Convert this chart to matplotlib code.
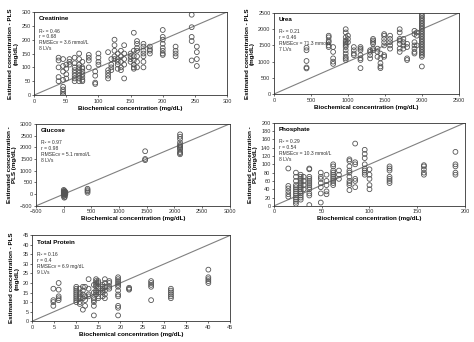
import numpy as np
import matplotlib.pyplot as plt

# ---- data ----
creat_x = [38]*5 + [45]*9 + [50]*4 + [55]*3 + [63]*8 + [70]*9 + [75]*8 + [85]*4 + [95]*4 \
    + [100]*4 + [115]*5 + [120]*4 + [125]*5 + [130]*5 + [135]*5 + [140]*5 + [150]*4 \
    + [155]*7 + [160]*7 + [170]*7 + [180]*4 + [200]*8 + [220]*4 + [245]*5 + [253]*4
creat_y = [135, 125, 100, 65, 50,
           130, 105, 85, 55, 30, 20, 12, 5, 0,
           110, 95, 75, 60,
           130, 120, 110,
           135, 115, 100, 90, 80, 70, 60, 50,
           150, 130, 110, 100, 90, 80, 70, 60, 50,
           120, 100, 95, 85, 75, 65, 55, 50,
           145, 135, 125, 100,
           85, 70, 45, 40,
           150, 135, 120, 110,
           155, 90, 80, 70, 60,
           130, 110, 100, 90,
           200, 180, 160, 140, 130,
           150, 130, 120, 110, 95,
           160, 140, 120, 100, 90,
           180, 150, 130, 110, 60,
           150, 140, 130, 120,
           225, 160, 140, 125, 110, 100, 95,
           195, 185, 170, 160, 140, 120, 100,
           185, 175, 160, 150, 140, 120, 100,
           175, 165, 160, 150,
           235, 210, 200, 185, 170, 160, 150, 145,
           175, 160, 150, 140,
           290, 245, 210, 195, 125,
           175, 155, 130, 105]

urea_x = [440]*5 + [740]*6 + [800]*5 + [970]*13 + [1000]*3 + [1080]*4 + [1170]*7 \
    + [1300]*4 + [1340]*6 + [1400]*3 + [1440]*5 + [1490]*7 + [1570]*5 + [1700]*7 \
    + [1750]*4 + [1800]*4 + [1900]*7 + [1930]*3 + [2000]*28
urea_y = [1430, 1350, 1020, 820, 790,
          1800, 1750, 1650, 1600, 1500, 1450,
          1450, 1300, 1100, 1000, 930,
          2000, 1900, 1750, 1650, 1600, 1550, 1500, 1450, 1350, 1250, 1150, 1100, 1050,
          1800, 1700, 1600,
          1450, 1350, 1250, 1200,
          1450, 1400, 1350, 1200, 1100, 1050, 800,
          1350, 1300, 1200, 1100,
          1700, 1650, 1600, 1550, 1400, 1350,
          1400, 1300, 1150,
          1250, 1100, 950, 850, 800,
          1850, 1800, 1700, 1600, 1500, 1200, 1150,
          1800, 1700, 1600, 1500, 1400,
          2000, 1900, 1700, 1650, 1550, 1400, 1300,
          1700, 1600, 1500, 1400,
          1550, 1450, 1100, 1050,
          1950, 1850, 1600, 1500, 1400, 1300, 1250,
          1900, 1800, 1500,
          2450, 2400, 2350, 2300, 2250, 2200, 2150, 2100, 2050, 2000, 1950, 1900, 1850,
          1800, 1750, 1700, 1650, 1600, 1550, 1500, 1450, 1400, 1350, 1300, 1250, 1200,
          1150, 850]

gluc_x = [0]*5 + [10]*5 + [20]*4 + [30]*3 + [430]*4 + [1470]*3 + [2100]*12
gluc_y = [180, 120, 60, 0, -80,
          150, 100, 40, -20, -150,
          80, 20, -50, -120,
          60, 0, 100,
          230, 170, 120, 60,
          1830, 1500, 1450,
          2550, 2450, 2350, 2200, 2100, 2050, 2000, 1950, 1900, 1800, 1750, 1700]

phos_x = [15]*6 + [23]*13 + [28]*13 + [31]*4 + [37]*12 + [49]*7 + [55]*5 + [62]*10 \
    + [68]*3 + [79]*10 + [85]*6 + [95]*8 + [100]*5 + [121]*7 + [157]*5 + [190]*5
phos_y = [90, 48, 42, 35, 28, 22,
          80, 70, 60, 50, 45, 40, 35, 30, 25, 20, 15, 10, 5,
          75, 70, 65, 60, 55, 50, 45, 40, 35, 30, 25, 20, 15,
          70, 60, 50, 40,
          90, 88, 70, 65, 60, 55, 50, 45, 40, 30, 25, 2,
          80, 70, 65, 55, 45, 30, 8,
          75, 60, 50, 35, 28,
          100, 95, 85, 80, 75, 70, 65, 60, 55, 50,
          85, 75, 65,
          112, 108, 95, 85, 80, 70, 60, 55, 50, 38,
          150, 105, 100, 65, 60, 45,
          135, 125, 115, 100, 90, 85, 80, 75,
          88, 75, 65, 50, 40,
          95, 90, 85, 70, 65, 60, 55,
          98, 95, 88, 80, 75,
          130, 100, 95, 80, 75]

prot_x = [4.8]*4 + [6]*5 + [10]*9 + [10.8]*7 + [11.5]*5 + [12]*4 + [12.8]*4 + [14]*7 \
    + [14.5]*8 + [15]*7 + [16]*6 + [16.5]*6 + [17.5]*4 + [19.5]*12 + [22]*3 + [27]*5 \
    + [31.5]*6 + [40]*5
prot_y = [17, 11, 10, 8,
          20, 16.5, 13, 12, 11,
          18, 17, 16, 15, 14, 13, 12, 11, 10,
          17, 15, 14, 13, 12, 10, 9,
          18, 16, 14, 12, 6,
          18, 13, 11, 8,
          22, 17, 14, 13,
          19, 15, 12, 11, 10, 8, 3,
          22, 21, 20, 19, 18, 16, 15, 14,
          21, 20, 18, 17, 15, 13, 12,
          19, 18, 17, 16, 15, 13,
          22, 20, 18, 16, 14, 12,
          21, 20, 18, 17,
          23, 22, 21, 20, 19, 18, 16, 14, 13, 8, 7, 3,
          17.5, 17, 16.5,
          21, 20, 19, 18, 11,
          17, 16, 15, 14, 13, 12,
          27, 23, 22, 21, 20]

panels = [
    dict(name='Creatinine', x=creat_x, y=creat_y, lim=(0, 300), step=50,
         stats=['R\u00b2 = 0.46', 'r = 0.68', 'RMSEcv = 3.6 mmol/L', '8 LVs'],
         ylabel='Estimated concentration - PLS\n(mg/dL)',
         rect=[0.072, 0.722, 0.407, 0.243]),
    dict(name='Urea', x=urea_x, y=urea_y, lim=(0, 2500), step=500,
         stats=['R\u00b2 = 0.21', 'r = 0.46', 'RMSEcv = 71.3 mmol/L', '7 LVs'],
         ylabel='Estimated concentration - PLS\n(mg/dL)',
         rect=[0.578, 0.725, 0.390, 0.237]),
    dict(name='Glucose', x=gluc_x, y=gluc_y, lim=(-500, 3000), step=500,
         stats=['R\u00b2 = 0.97', 'r = 0.98', 'RMSEcv = 5.1 mmol/L', '8 LVs'],
         ylabel='Estimated concentration -\nPLS (mg/dL)',
         rect=[0.076, 0.398, 0.409, 0.240]),
    dict(name='Phosphate', x=phos_x, y=phos_y, lim=(0, 200), step=20, xstep=50,
         stats=['R\u00b2 = 0.29', 'r = 0.54', 'RMSEcv = 10.3 mmol/L', '8 LVs'],
         ylabel='Estimated concentration -\nPLS (mg/dL)',
         rect=[0.578, 0.398, 0.403, 0.243]),
    dict(name='Total Protein', x=prot_x, y=prot_y, lim=(0, 45), step=5,
         stats=['R\u00b2 = 0.16', 'r = 0.4', 'RMSEcv = 6.9 mg/dL', '9 LVs'],
         ylabel='Estimated concentration - PLS\n(mg/dL)',
         rect=[0.068, 0.061, 0.418, 0.251]),
]

fig = plt.figure(figsize=(4.74, 3.42), dpi=100)
plt.rcParams['font.family'] = ['Liberation Sans', 'DejaVu Sans']

for p in panels:
    ax = fig.add_axes(p['rect'])
    lo, hi = p['lim']
    ax.plot([lo, hi], [lo, hi], color='#808080', lw=0.8, zorder=1)
    ax.scatter(p['x'], p['y'], s=12, facecolors='none', edgecolors='#555555',
               linewidths=0.6, zorder=2)
    ax.set_xlim(lo, hi)
    ax.set_ylim(lo, hi)
    ax.set_xticks(np.arange(lo, hi + 1, p.get('xstep', p['step'])))
    ax.set_yticks(np.arange(lo, hi + 1, p['step']))
    ax.tick_params(labelsize=4, length=1.5, width=0.5, pad=1, colors='#333333')
    for s in ax.spines.values():
        s.set_linewidth(0.6)
        s.set_color('#333333')
    ax.set_xlabel('Biochemical concentration (mg/dL)', fontsize=4.5,
                  fontweight='bold', labelpad=1.5)
    ax.set_ylabel(p['ylabel'], fontsize=4.5, fontweight='bold', labelpad=2,
                  linespacing=1.1)
    ax.text(0.025, 0.95, p['name'], transform=ax.transAxes, fontsize=4.5,
            fontweight='bold', va='top', ha='left')
    ax.text(0.025, 0.80, '\n'.join(p['stats']), transform=ax.transAxes,
            fontsize=3.6, va='top', ha='left', color='#333333', linespacing=1.2)

fig.savefig('out.png', dpi=100)
